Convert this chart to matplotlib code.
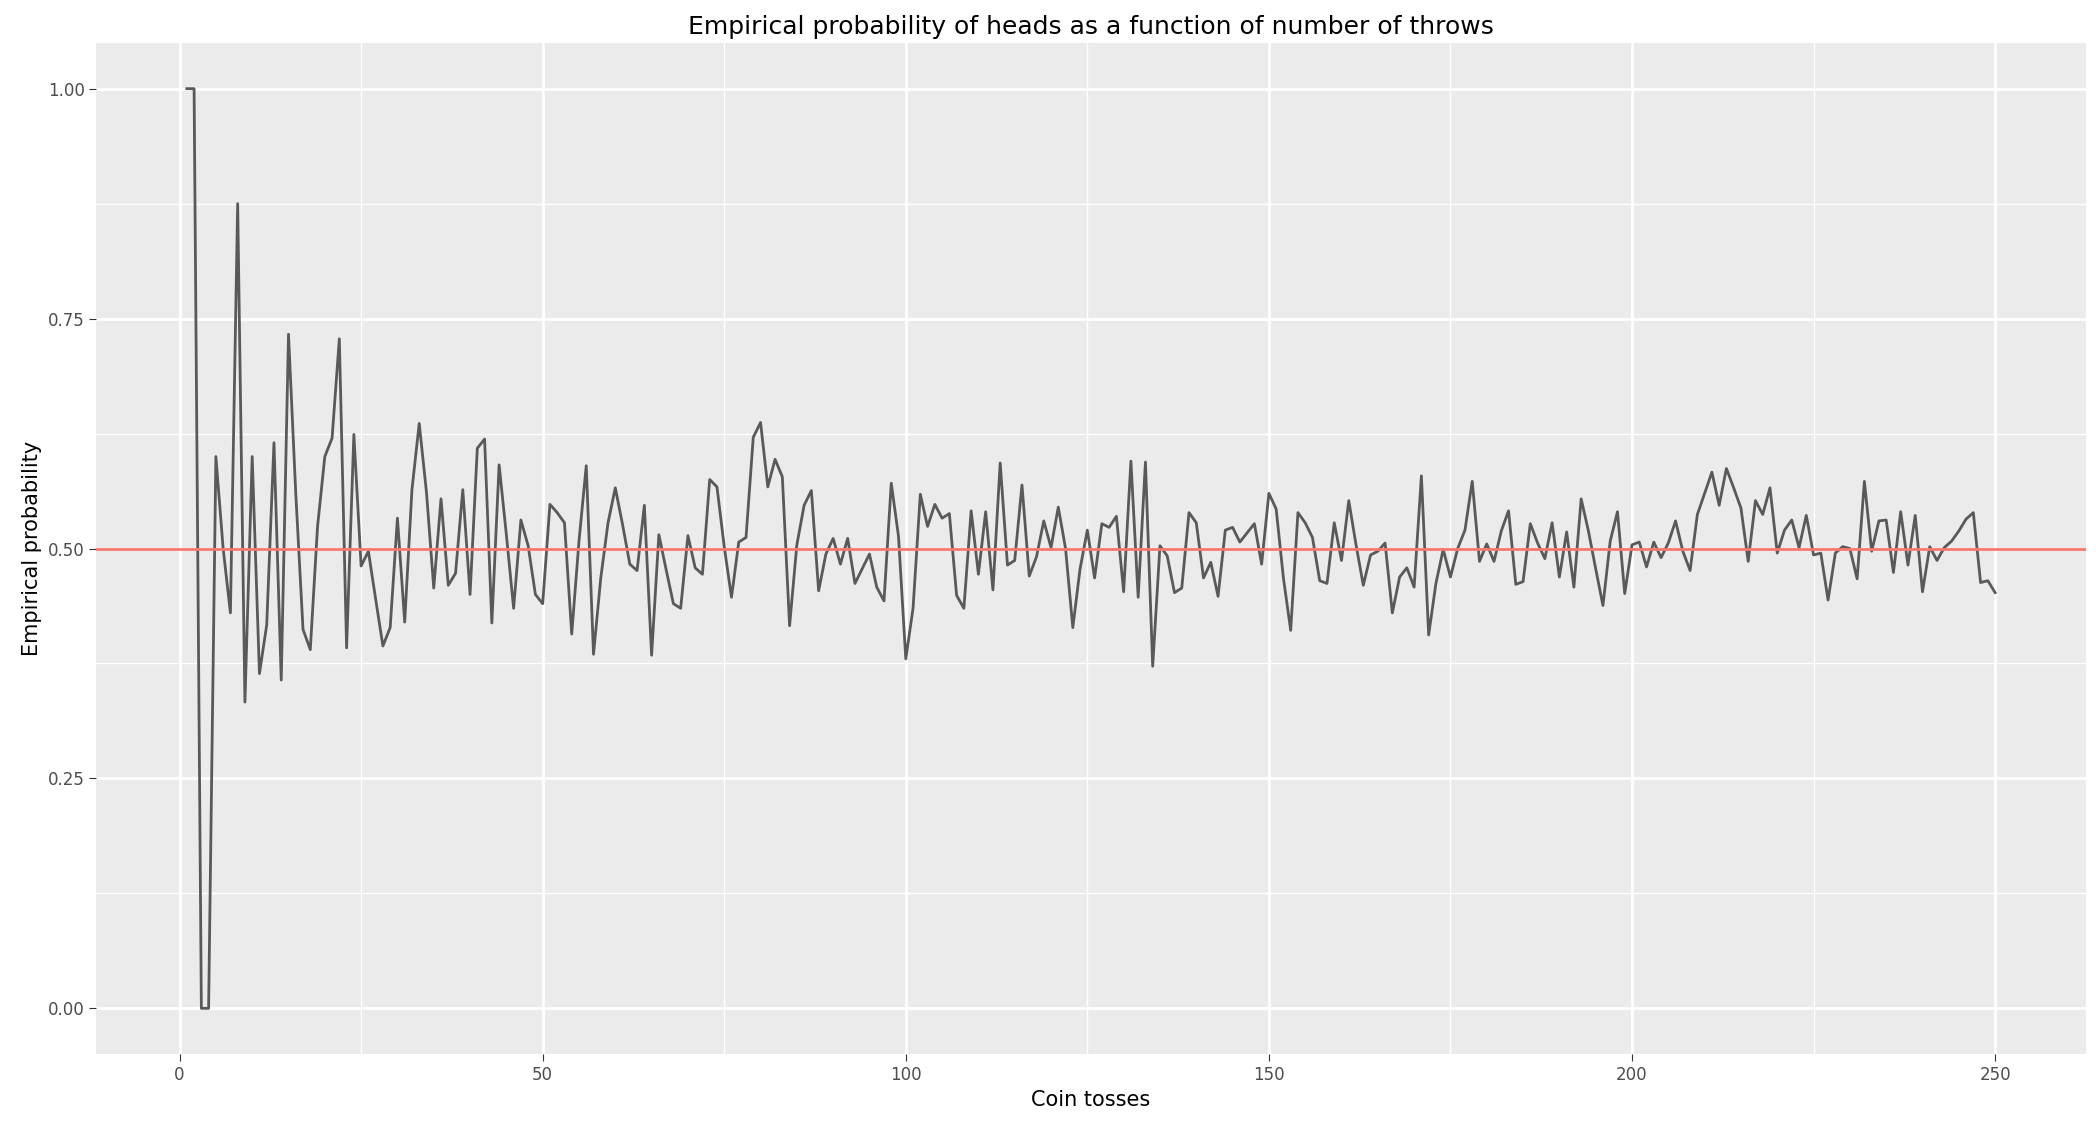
import matplotlib

matplotlib.use("Agg")

import matplotlib.pyplot as plt
import numpy as np

# Empirical probability values, tosses 1..250
probs = [
    1.0, 1.0, 0.0, 0.0, 0.60, 0.50, 0.43, 0.875, 0.333, 0.60,
    0.364, 0.417, 0.615, 0.357, 0.733, 0.56, 0.412, 0.39, 0.524, 0.60,
    0.62, 0.728, 0.392, 0.624, 0.481, 0.497, 0.445, 0.394, 0.414, 0.533,
    0.42, 0.564, 0.636, 0.561, 0.457, 0.554, 0.46, 0.473, 0.564, 0.45,
    0.609, 0.619, 0.419, 0.591, 0.515, 0.435, 0.531, 0.503, 0.45, 0.44,
    0.548, 0.539, 0.528, 0.407, 0.508, 0.59, 0.385, 0.468, 0.528, 0.566,
    0.526, 0.483, 0.476, 0.547, 0.384, 0.515, 0.477, 0.44, 0.435, 0.514,
    0.479, 0.472, 0.575, 0.567, 0.502, 0.447, 0.507, 0.512, 0.621, 0.637,
    0.567, 0.597, 0.578, 0.416, 0.504, 0.547, 0.563, 0.454, 0.494, 0.511,
    0.483, 0.511, 0.462, 0.478, 0.494, 0.458, 0.443, 0.571, 0.513, 0.38,
    0.435, 0.559, 0.524, 0.548, 0.533, 0.538, 0.449, 0.435, 0.541, 0.472,
    0.54, 0.455, 0.593, 0.482, 0.487, 0.569, 0.47, 0.491, 0.53, 0.501,
    0.545, 0.50, 0.414, 0.478, 0.52, 0.468, 0.527, 0.523, 0.535, 0.453,
    0.595, 0.447, 0.594, 0.372, 0.503, 0.492, 0.452, 0.457, 0.539, 0.528,
    0.468, 0.485, 0.448, 0.52, 0.523, 0.507, 0.517, 0.527, 0.483, 0.56,
    0.543, 0.468, 0.411, 0.539, 0.528, 0.512, 0.465, 0.462, 0.528, 0.487,
    0.552, 0.504, 0.46, 0.493, 0.497, 0.506, 0.43, 0.469, 0.479, 0.458,
    0.579, 0.406, 0.462, 0.499, 0.469, 0.50, 0.52, 0.573, 0.486, 0.505,
    0.486, 0.519, 0.541, 0.461, 0.464, 0.527, 0.506, 0.489, 0.528, 0.469,
    0.518, 0.458, 0.554, 0.519, 0.478, 0.438, 0.508, 0.54, 0.451, 0.504,
    0.507, 0.48, 0.507, 0.49, 0.506, 0.53, 0.497, 0.476, 0.537, 0.56,
    0.583, 0.547, 0.587, 0.566, 0.544, 0.486, 0.552, 0.537, 0.566, 0.495,
    0.52, 0.531, 0.501, 0.536, 0.493, 0.495, 0.444, 0.495, 0.502, 0.50,
    0.467, 0.573, 0.497, 0.53, 0.531, 0.474, 0.54, 0.482, 0.536, 0.453,
    0.502, 0.487, 0.501, 0.508, 0.519, 0.532, 0.539, 0.463, 0.465, 0.452,
]
tosses = np.arange(1, len(probs) + 1)
true_p = 0.5

x_ticks = [0, 50, 100, 150, 200, 250]
y_ticks = [0.0, 0.25, 0.5, 0.75, 1.0]

fig = plt.figure(figsize=(20.96, 11.24), dpi=100)
ax = fig.add_axes([0.046, 0.062, 0.949, 0.9])
ax.set_facecolor("#EBEBEB")

ax.plot(tosses, probs, color="#595959", lw=2.0, zorder=3)
ax.axhline(true_p, color="#F8766D", lw=2.0, zorder=4)

ax.set_xlim(-11.45, 262.45)
ax.set_ylim(-0.05, 1.05)
ax.set_xticks(x_ticks)
ax.set_yticks(y_ticks)
ax.set_yticklabels([f"{v:.2f}" for v in y_ticks])
ax.set_xticks([25, 75, 125, 175, 225], minor=True)
ax.set_yticks([0.125, 0.375, 0.625, 0.875], minor=True)
ax.grid(which="major", color="white", lw=2.0)
ax.grid(which="minor", color="white", lw=1.0)
ax.set_axisbelow(True)
for s in ax.spines.values():
    s.set_visible(False)
ax.tick_params(which="major", length=5, color="#333333", labelsize=12, labelcolor="#4D4D4D")
ax.tick_params(which="minor", length=0)

ax.set_xlabel("Coin tosses", fontsize=15)
ax.set_ylabel("Empirical probability", fontsize=15)
ax.set_title("Empirical probability of heads as a function of number of throws", fontsize=18)

fig.savefig("out.png", dpi=100)
